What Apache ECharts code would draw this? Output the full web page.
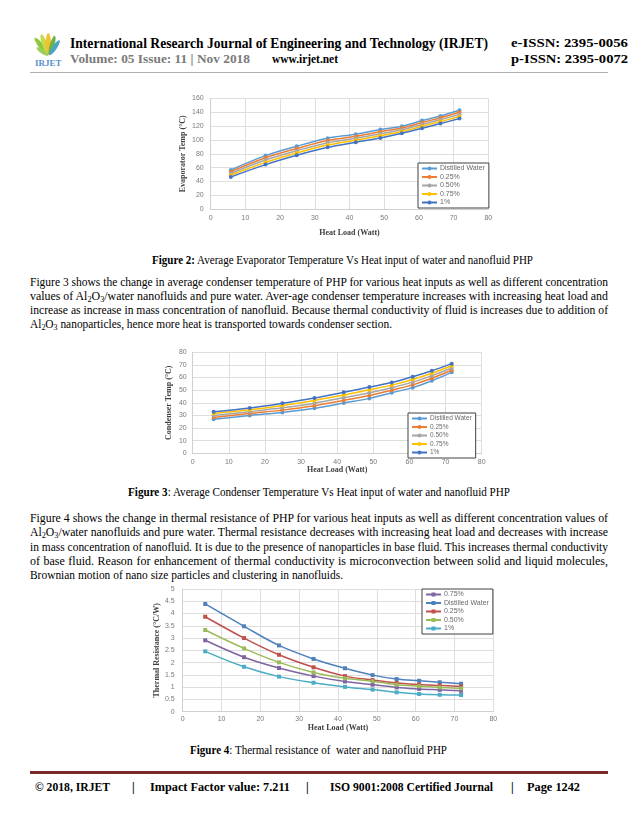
<!DOCTYPE html>
<html>
<head>
<meta charset="utf-8">
<script src="https://cdn.jsdelivr.net/npm/echarts@6/dist/echarts.min.js"></script>
<style>
html,body{margin:0;padding:0;background:#fff;}
#page{position:relative;width:638px;height:826px;overflow:hidden;background:#fff;font-family:'Liberation Serif',serif;color:#000;}
.t{position:absolute;white-space:nowrap;transform-origin:0 50%;line-height:1;display:inline-block;}
.chart{position:absolute;left:0;top:0;width:638px;height:826px;}
sub{font-size:70%;vertical-align:-0.25em;line-height:0;}
.b{font-weight:bold;}
</style>
</head>
<body>
<div id="page">
  <!-- logo -->
  <svg style="position:absolute;left:33px;top:26px" width="36" height="44" viewBox="0 0 36 44">
    <g transform="translate(16,30)">
      <ellipse cx="0" cy="-12" rx="2.6" ry="11" fill="#8dc63f" transform="rotate(-38)"/>
      <ellipse cx="0" cy="-12" rx="2.6" ry="11" fill="#c8d94a" transform="rotate(-20)"/>
      <ellipse cx="0" cy="-12" rx="2.6" ry="11" fill="#f2c12e" transform="rotate(-2)"/>
      <ellipse cx="0" cy="-11" rx="2.4" ry="10" fill="#6fb24a" transform="rotate(16)"/>
      <ellipse cx="0" cy="-10" rx="2.2" ry="9" fill="#4aa3c9" transform="rotate(34)"/>
      <ellipse cx="0" cy="-8" rx="2" ry="7" fill="#9ccf5c" transform="rotate(-56)"/>
    </g>
    <text x="2" y="40" font-family="Liberation Serif" font-size="9" font-weight="bold" fill="#5b8fc9">IRJET</text>
  </svg>

  <!-- header -->
  <span class="t b" style="left:70px;top:36px;font-size:15px" data-w="418">International Research Journal of Engineering and Technology (IRJET)</span>
  <span class="t b" style="left:511px;top:37px;font-size:12px" data-w="117">e-ISSN: 2395-0056</span>
  <span class="t b" style="left:70px;top:53px;font-size:12px;color:#7a7a7a" data-w="180">Volume: 05 Issue: 11 | Nov 2018</span>
  <span class="t b" style="left:272px;top:53px;font-size:12px" data-w="66">www.irjet.net</span>
  <span class="t b" style="left:511px;top:53px;font-size:12px" data-w="117">p-ISSN: 2395-0072</span>
  <div style="position:absolute;left:30px;top:72px;width:578px;height:1px;background:#b0b0b0"></div>

  <!-- caption 2 -->
  <span class="t" style="left:152px;top:254px;font-size:12px" data-w="381"><span class="b">Figure 2:</span> Average Evaporator Temperature Vs Heat input of water and nanofluid PHP</span>

  <!-- paragraph 1 -->
  <span class="t" style="left:30px;top:276px;font-size:12px" data-w="578" data-j="1">Figure 3 shows the change in average condenser temperature of PHP for various heat inputs as well as different concentration</span>
  <span class="t" style="left:30px;top:290px;font-size:12px" data-w="578" data-j="1">values of Al<sub>2</sub>O<sub>3</sub>/water nanofluids and pure water. Aver-age condenser temperature increases with increasing heat load and</span>
  <span class="t" style="left:30px;top:304px;font-size:12px" data-w="578" data-j="1">increase as increase in mass concentration of nanofluid. Because thermal conductivity of fluid is increases due to addition of</span>
  <span class="t" style="left:30px;top:318px;font-size:12px" data-w="362">Al<sub>2</sub>O<sub>3</sub> nanoparticles, hence more heat is transported towards condenser section.</span>

  <!-- caption 3 -->
  <span class="t" style="left:128px;top:486px;font-size:12px" data-w="382"><span class="b">Figure 3</span>: Average Condenser Temperature Vs Heat input of water and nanofluid PHP</span>

  <!-- paragraph 2 -->
  <span class="t" style="left:30px;top:512px;font-size:12px" data-w="578" data-j="1">Figure 4 shows the change in thermal resistance of PHP for various heat inputs as well as different concentration values of</span>
  <span class="t" style="left:30px;top:526px;font-size:12px" data-w="578" data-j="1">Al<sub>2</sub>O<sub>3</sub>/water nanofluids and pure water. Thermal resistance decreases with increasing heat load and decreases with increase</span>
  <span class="t" style="left:30px;top:541px;font-size:12px" data-w="578" data-j="1">in mass concentration of nanofluid. It is due to the presence of nanoparticles in base fluid. This increases thermal conductivity</span>
  <span class="t" style="left:30px;top:555px;font-size:12px" data-w="578" data-j="1">of base fluid. Reason for enhancement of thermal conductivity is microconvection between solid and liquid molecules,</span>
  <span class="t" style="left:30px;top:569px;font-size:12px" data-w="313">Brownian motion of nano size particles and clustering in nanofluids.</span>

  <!-- caption 4 -->
  <span class="t" style="left:190px;top:744px;font-size:12px" data-w="257"><span class="b">Figure 4</span>: Thermal resistance of&nbsp; water and nanofluid PHP</span>

  <!-- footer -->
  <div style="position:absolute;left:30px;top:771px;width:578px;height:3px;background:#7b2a2a"></div>
  <span class="t b" style="left:35px;top:781px;font-size:12px" data-w="75">© 2018, IRJET</span>
  <span class="t b" style="left:132px;top:781px;font-size:12px">|</span>
  <span class="t b" style="left:150px;top:781px;font-size:12px" data-w="140">Impact Factor value: 7.211</span>
  <span class="t b" style="left:306px;top:781px;font-size:12px">|</span>
  <span class="t b" style="left:330px;top:781px;font-size:12px" data-w="163">ISO 9001:2008 Certified Journal</span>
  <span class="t b" style="left:511px;top:781px;font-size:12px">|</span>
  <span class="t b" style="left:527px;top:781px;font-size:12px" data-w="53">Page 1242</span>

  <div id="c1" class="chart"></div>
  <div id="c2" class="chart"></div>
  <div id="c3" class="chart"></div>
</div>

<script>
// ---------- data ----------
const heatLoad = [5.8, 15.8, 24.8, 33.7, 41.8, 48.9, 55.1, 60.9, 66.2, 71.7];

// Figure 2 : evaporator temperature (°C)
const evapWater = [56.7, 77.4, 90.9, 102.4, 108.2, 114.9, 119.7, 127.9, 134.6, 142.8];
const evap025   = [54.2, 74.2, 87.6, 99.2, 105.3, 111.9, 117.2, 125.1, 131.9, 139.8];
const evap050   = [51.6, 71.0, 84.4, 96.0, 102.4, 108.9, 114.6, 122.4, 129.1, 136.8];
const evap075   = [49.1, 67.6, 81.1, 92.6, 99.5, 105.9, 112.1, 119.6, 126.4, 133.8];
const evap100   = [46.6, 64.4, 77.9, 89.4, 96.6, 102.9, 109.6, 116.8, 123.6, 130.8];

// Figure 3 : condenser temperature (°C)
const condWater = [26.9, 30.0, 32.4, 35.6, 39.8, 43.5, 48.0, 52.0, 57.5, 64.1];
const cond025   = [28.4, 31.5, 34.2, 37.7, 41.9, 45.8, 50.0, 54.2, 59.5, 65.8];
const cond050   = [29.9, 33.0, 36.0, 39.7, 44.0, 48.0, 52.0, 56.4, 61.5, 67.6];
const cond075   = [31.5, 34.4, 37.8, 41.8, 46.2, 50.3, 54.0, 58.5, 63.4, 69.3];
const cond100   = [33.0, 35.9, 39.6, 43.8, 48.3, 52.5, 56.0, 60.7, 65.4, 71.0];

// Figure 4 : thermal resistance (°C/W)
const resWater = [4.39, 3.48, 2.70, 2.15, 1.77, 1.49, 1.33, 1.26, 1.20, 1.14];
const res025   = [3.87, 3.00, 2.32, 1.81, 1.45, 1.29, 1.17, 1.11, 1.07, 1.03];
const res050   = [3.33, 2.58, 2.01, 1.60, 1.36, 1.24, 1.10, 1.04, 0.99, 0.95];
const res075   = [2.91, 2.22, 1.78, 1.45, 1.23, 1.10, 0.99, 0.93, 0.89, 0.85];
const res100   = [2.46, 1.83, 1.43, 1.18, 1.01, 0.90, 0.79, 0.72, 0.69, 0.68];

const seriesNames1 = ['Distilled Water', '0.25%', '0.50%', '0.75%', '1%'];
const seriesNames3 = ['0.75%', 'Distilled Water', '0.25%', '0.50%', '1%'];
const xTicks = {min: 0, max: 80, interval: 10};

// ---------- text layout ----------
function layoutText(){
  document.querySelectorAll('[data-w]').forEach(el=>{
    const w = +el.dataset.w;
    const nat = el.getBoundingClientRect().width;
    if (el.dataset.j) {
      const spaces = (el.textContent.match(/ /g)||[]).length;
      if (nat <= w && spaces) el.style.wordSpacing = ((w-nat)/spaces) + 'px';
      else el.style.transform = 'scaleX(' + (w/nat) + ')';
    } else {
      el.style.transform = 'scaleX(' + (w/nat) + ')';
    }
  });
}
layoutText();

// ---------- charts ----------
const gridColor = '#dedede';
function axisCommon(){
  return {
    type: 'value',
    axisLine: {show: true, lineStyle: {color: '#d0d0d0'}},
    axisTick: {show: false},
    splitLine: {show: true, lineStyle: {color: gridColor, width: 1}},
    axisLabel: {color: '#7a7a7a', fontSize: 7, fontFamily: 'Liberation Sans'},
    nameLocation: 'middle',
    nameTextStyle: {fontFamily: 'Liberation Serif', fontWeight: 'bold', fontSize: 8, color: '#404040'}
  };
}
function lineSeries(name, vals, color, symbol){
  return {
    type: 'line', name: name,
    data: heatLoad.map((x, i) => [x, vals[i]]),
    smooth: 0.35, symbol: symbol, symbolSize: 4,
    lineStyle: {width: 1.5, color: color},
    itemStyle: {color: color}
  };
}
function legendCommon(left, top, names, fs){
  return {
    orient: 'vertical', left: left, top: top, data: names,
    backgroundColor: '#fff', borderColor: '#404040', borderWidth: 1,
    padding: [2, 4, 2, 3], itemGap: 1.5, itemWidth: 15, itemHeight: 5,
    textStyle: {fontSize: fs, lineHeight: fs, color: '#6a6a6a', fontFamily: 'Liberation Sans', padding: [0,0,0,-2]}
  };
}

const ch1 = echarts.init(document.getElementById('c1'), null, {renderer: 'canvas'});
ch1.setOption({
  animation: false,
  grid: {left: 210.7, top: 98.3, width: 277.6, height: 111},
  xAxis: Object.assign(axisCommon(), xTicks, {name: 'Heat Load (Watt)', nameGap: 20, axisLabel: Object.assign(axisCommon().axisLabel, {margin: 5})}),
  yAxis: Object.assign(axisCommon(), {min: 0, max: 160, interval: 20, name: 'Evaporator Temp (°C)', nameGap: 24, axisLabel: Object.assign(axisCommon().axisLabel, {margin: 7})}),
  legend: legendCommon(418, 163, seriesNames1, 7),
  series: [
    lineSeries('Distilled Water', evapWater, '#5B9BD5', 'circle'),
    lineSeries('0.25%', evap025, '#ED7D31', 'circle'),
    lineSeries('0.50%', evap050, '#A5A5A5', 'circle'),
    lineSeries('0.75%', evap075, '#FFC000', 'circle'),
    lineSeries('1%', evap100, '#4472C4', 'circle')
  ]
});

const ch2 = echarts.init(document.getElementById('c2'), null, {renderer: 'canvas'});
ch2.setOption({
  animation: false,
  grid: {left: 192.7, top: 352.3, width: 289, height: 101},
  xAxis: Object.assign(axisCommon(), xTicks, {name: 'Heat Load (Watt)', nameGap: 12, axisLabel: Object.assign(axisCommon().axisLabel, {margin: 5})}),
  yAxis: Object.assign(axisCommon(), {min: 0, max: 80, interval: 10, name: 'Condenser Temp (°C)', nameGap: 20, axisLabel: Object.assign(axisCommon().axisLabel, {margin: 6})}),
  legend: legendCommon(408, 413, seriesNames1, 6.5),
  series: [
    lineSeries('Distilled Water', condWater, '#5B9BD5', 'circle'),
    lineSeries('0.25%', cond025, '#ED7D31', 'circle'),
    lineSeries('0.50%', cond050, '#A5A5A5', 'circle'),
    lineSeries('0.75%', cond075, '#FFC000', 'circle'),
    lineSeries('1%', cond100, '#4472C4', 'circle')
  ]
});

const ch3 = echarts.init(document.getElementById('c3'), null, {renderer: 'canvas'});
ch3.setOption({
  animation: false,
  grid: {left: 182.7, top: 589, width: 310.6, height: 122.7},
  xAxis: Object.assign(axisCommon(), xTicks, {name: 'Heat Load (Watt)', nameGap: 12, axisLabel: Object.assign(axisCommon().axisLabel, {margin: 4})}),
  yAxis: Object.assign(axisCommon(), {min: 0, max: 5, interval: 0.5, name: 'Thermal Resistance (°C/W)', nameGap: 20, axisLabel: Object.assign(axisCommon().axisLabel, {margin: 8})}),
  legend: legendCommon(422, 589, seriesNames3, 7),
  series: [
    lineSeries('0.75%', res075, '#8064A2', 'rect'),
    lineSeries('Distilled Water', resWater, '#4F81BD', 'rect'),
    lineSeries('0.25%', res025, '#C0504D', 'rect'),
    lineSeries('0.50%', res050, '#9BBB59', 'rect'),
    lineSeries('1%', res100, '#4BACC6', 'rect')
  ]
});
</script>
</body>
</html>
